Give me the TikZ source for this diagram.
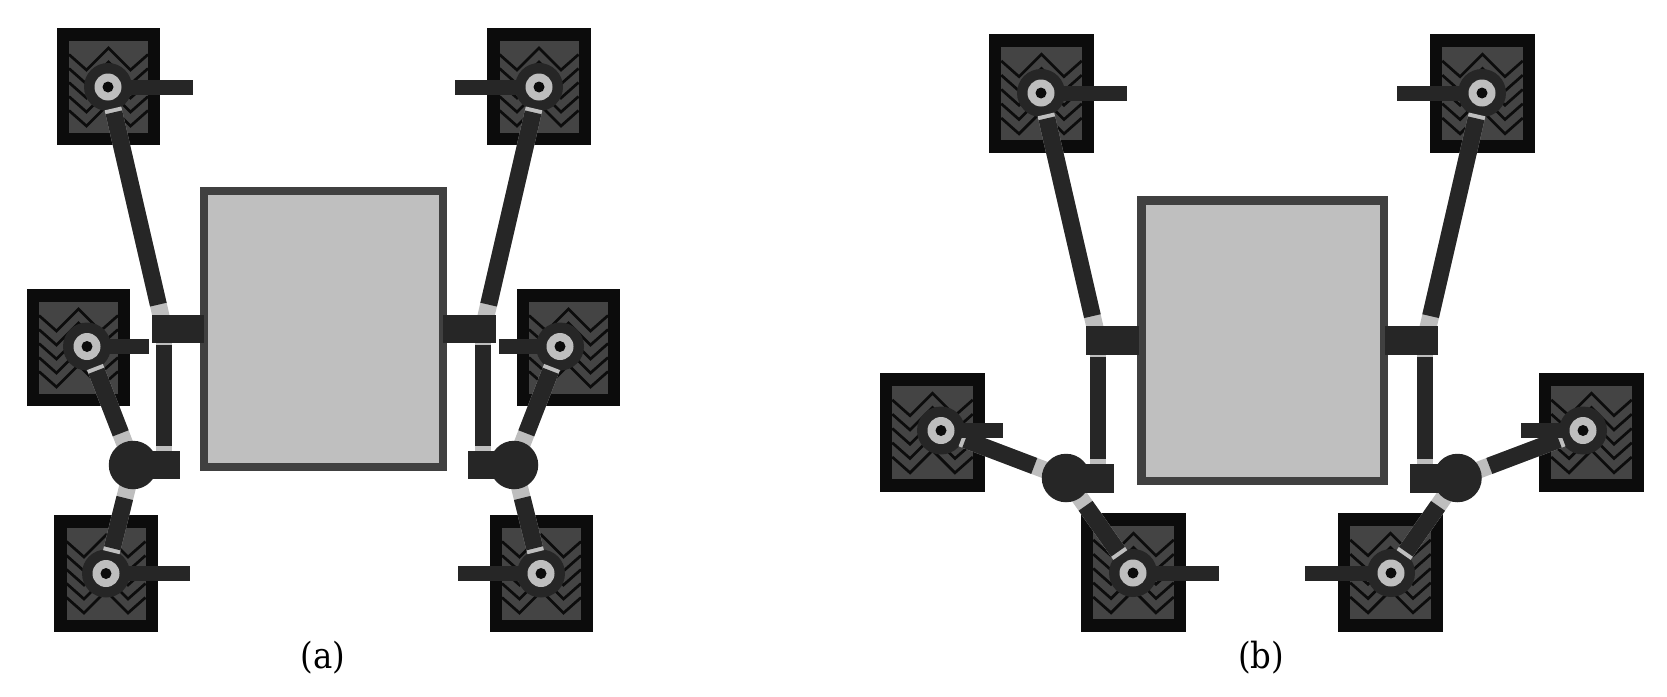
\documentclass[tikz,border=0pt]{standalone}
\usepackage{tikz}
\usepackage{fontspec}
\usetikzlibrary{positioning}
\newfontfamily\panelfont{DejaVu Serif Condensed}
\definecolor{treadblack}{RGB}{12, 12, 12}
\definecolor{treadgray}{RGB}{68, 68, 68}
\definecolor{armdark}{RGB}{38, 38, 38}
\definecolor{capgray}{RGB}{190, 190, 190}
\definecolor{bodyedge}{RGB}{64, 64, 64}
\tikzset{
  treadbox/.style={rectangle, fill=treadblack, inner sep=0pt},
  treadpad/.style={rectangle, fill=treadgray, inner sep=0pt},
  chevron/.style={draw=treadblack, line width=2.7pt},
  hubdisc/.style={circle, fill=armdark, inner sep=0pt, minimum size=48pt},
  hubring/.style={circle, fill=capgray, inner sep=0pt, minimum size=27pt},
  hubpin/.style={circle, fill=treadblack, inner sep=0pt, minimum size=11pt},
  armcap/.style={draw=capgray, line width=17pt},
  armbar/.style={draw=armdark, line width=17pt},
  stubbar/.style={draw=armdark, line width=15pt, shorten <=14pt},
  bodybox/.style={rectangle, draw=bodyedge, fill=capgray!98!white, inner sep=0pt},
  mountbox/.style={rectangle, fill=armdark, inner sep=0pt},
  jointdisc/.style={circle, fill=armdark, inner sep=0pt, minimum size=48.5pt},
  sublabel/.style={inner sep=0pt, font=\panelfont\fontsize{36}{42}\selectfont}
}
% name, tread centre x y, size factor, hub x y
\newcommand{\wheel}[7]{
  \node[treadbox, minimum width={103.5pt*#4}, minimum height={117pt*#4}] (#1-tread) at (#2,#3) {};
  \node[treadpad, minimum width={79pt*#4}, minimum height={92pt*#4}] (#1-pad) at (#2,#3) {};
  \begin{scope}[shift={(#2,#3)}, scale=#4]
    \foreach \row in {0,14,28,42,56}
      \draw[chevron] (-39.5,-32+\row) -- (-22,-16.5+\row) -- (0,-38.5+\row) -- (22,-16.5+\row) -- (39.5,-32+\row);
  \end{scope}
  \node[hubdisc] (#1) at (#5,#6) {};
  \node[hubring] (#1-ring) at (#1.center) {};
  \node[hubpin] (#1-pin) at (#1.center) {};
  \coordinate (#1-end) at (#7,0 |- #1.center);
}
\newcommand{\arm}[3]{
  \draw[armcap, shorten <=22pt] (#1.center) -- (#2);
  \draw[armbar, shorten <=26pt, shorten >=#3pt] (#1.center) -- (#2);
}
\newcommand{\strutbar}[4]{
  \draw[armcap, line width=16pt] (#1) -- (#2);
  \draw[armbar, line width=16pt, shorten <=#3pt, shorten >=#4pt] (#1) -- (#2);
}

\begin{document}
\begin{tikzpicture}[x=1pt, y=-1pt]
\useasboundingbox (0,0) rectangle (1667,696);
% panel a
\node[bodybox, line width=8pt, minimum width=239pt, minimum height=276pt] (abody) at (323.5,329) {};
\coordinate (apl) at (164,329);
\coordinate (apr) at (483,329);
\coordinate (asl) at (164,465);
\coordinate (asr) at (483,465);
\coordinate (ajl) at (133,465);
\coordinate (ajr) at (514,465);
\wheel{atl}{108.5}{86.5}{1}{108}{87}{193}
\wheel{aml}{78.5}{347.5}{1}{87}{346.5}{149}
\wheel{abl}{106}{573.5}{1}{106}{573.5}{190}
\wheel{atr}{539}{86.5}{1}{539}{87}{455}
\wheel{amr}{568.5}{347.5}{1}{560}{346.5}{499}
\wheel{abr}{541.5}{573.5}{1}{541}{573.5}{458}
\arm{atl}{apl}{25}
\arm{aml}{ajl}{34}
\arm{abl}{ajl}{34}
\arm{atr}{apr}{25}
\arm{amr}{ajr}{34}
\arm{abr}{ajr}{34}
\strutbar{apl}{asl}{16}{19}
\strutbar{apr}{asr}{16}{19}
\foreach \name in {atl,aml,abl,atr,amr,abr}
  \draw[stubbar] (\name.center) -- (\name-end);
\node[mountbox, minimum width=52pt, minimum height=28pt] (aml-mount) at (178,329) {};
\node[mountbox, minimum width=53pt, minimum height=28pt] (amr-mount) at (469.5,329) {};
\node[mountbox, minimum width=47pt, minimum height=28pt] (aml-knuckle) at (156.5,465) {};
\node[mountbox, minimum width=47pt, minimum height=28pt] (amr-knuckle) at (491.5,465) {};
\node[jointdisc] (aml-joint) at (ajl) {};
\node[jointdisc] (amr-joint) at (ajr) {};
\node[sublabel] (alabel) at (323,658) {(a)};
% panel b
\node[bodybox, line width=8.5pt, minimum width=242.5pt, minimum height=280.5pt] (bbody) at (1262.5,340.5) {};
\coordinate (bpl) at (1098,340.5);
\coordinate (bpr) at (1425,340.5);
\coordinate (bsl) at (1098,478.5);
\coordinate (bsr) at (1425,478.5);
\coordinate (bjl) at (1066,478);
\coordinate (bjr) at (1457.5,478);
\wheel{btl}{1041.5}{93.5}{1.02}{1041}{93}{1127}
\wheel{bml}{932.5}{432.5}{1.02}{941}{430.5}{1003}
\wheel{bbl}{1133.5}{572.5}{1.02}{1133}{573}{1219}
\wheel{btr}{1482.5}{93.5}{1.02}{1482}{93}{1397}
\wheel{bmr}{1591.5}{432.5}{1.02}{1583}{430.5}{1521}
\wheel{bbr}{1390.5}{572.5}{1.02}{1391}{573}{1305}
\arm{btl}{bpl}{25}
\arm{bml}{bjl}{34}
\arm{bbl}{bjl}{34}
\arm{btr}{bpr}{25}
\arm{bmr}{bjr}{34}
\arm{bbr}{bjr}{34}
\strutbar{bpl}{bsl}{16.5}{19.5}
\strutbar{bpr}{bsr}{16.5}{19.5}
\foreach \name in {btl,bml,bbl,btr,bmr,bbr}
  \draw[stubbar] (\name.center) -- (\name-end);
\node[mountbox, minimum width=53pt, minimum height=29pt] (bml-mount) at (1112.5,340.5) {};
\node[mountbox, minimum width=53pt, minimum height=29pt] (bmr-mount) at (1411,340.5) {};
\node[mountbox, minimum width=48pt, minimum height=29pt] (bml-knuckle) at (1090,478.5) {};
\node[mountbox, minimum width=48pt, minimum height=29pt] (bmr-knuckle) at (1434,478.5) {};
\node[jointdisc] (bml-joint) at (bjl) {};
\node[jointdisc] (bmr-joint) at (bjr) {};
\node[sublabel] (blabel) at (1261,658) {(b)};
\end{tikzpicture}
\end{document}
